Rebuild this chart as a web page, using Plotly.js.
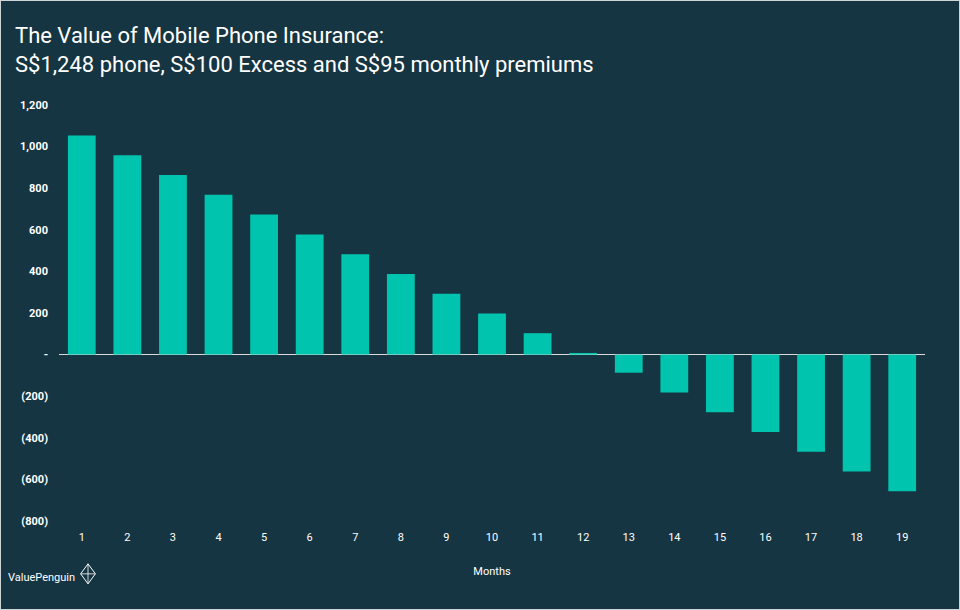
<!DOCTYPE html>
<html>
<head>
<meta charset="utf-8">
<script src="https://cdn.plot.ly/plotly-3.0.1.min.js"></script>
<style>
html,body{margin:0;padding:0;background:#163542;}
#wrap{position:relative;width:960px;height:610px;}
#chart{width:960px;height:610px;}
#frame{position:absolute;left:0;top:0;width:958px;height:608px;border:1px solid #cfd4d6;pointer-events:none;}
</style>
</head>
<body>
<div id="wrap"><div id="chart"></div><div id="frame"></div></div>
<script>
const months = ["1","2","3","4","5","6","7","8","9","10","11","12","13","14","15","16","17","18","19"];
const values = [1053, 958, 863, 768, 673, 578, 483, 388, 293, 198, 103, 8, -87, -182, -277, -372, -467, -562, -657];
const yTickVals = [-800, -600, -400, -200, 0, 200, 400, 600, 800, 1000, 1200];
const yTickText = ["(800)", "(600)", "(400)", "(200)", "-", "200", "400", "600", "800", "1,000", "1,200"];

const bg = "#163542";
const trace = {
  type: "bar",
  x: months,
  y: values,
  marker: {color: "#00c4ae"},
  width: 0.61,
  hoverinfo: "x+y"
};

const layout = {
  width: 960,
  height: 610,
  paper_bgcolor: bg,
  plot_bgcolor: bg,
  margin: {l: 59, r: 35, t: 105, b: 89},
  showlegend: false,
  font: {family: "Roboto, 'DejaVu Sans', sans-serif", color: "#ffffff"},
  title: {
    text: "The Value of Mobile Phone Insurance:<br>S$1,248 phone, S$100 Excess and S$95 monthly premiums",
    font: {size: 22, color: "#ffffff", family: "Roboto, sans-serif"},
    x: 15 / 960, xanchor: "left", xref: "container",
    y: 1 - 43 / 610, yanchor: "top", yref: "container"
  },
  xaxis: {
    type: "category",
    showgrid: false,
    zeroline: false,
    showline: false,
    ticks: "",
    ticklabelstandoff: 8,
    tickfont: {size: 11, color: "#ffffff"},
    title: {text: "Months", font: {size: 11, color: "#ffffff"}, standoff: 24}
  },
  yaxis: {
    range: [-800, 1200],
    tickvals: yTickVals,
    ticktext: yTickText,
    showgrid: false,
    zeroline: true,
    zerolinecolor: "#d9d9d9",
    zerolinewidth: 1.5,
    showline: false,
    ticks: "",
    ticklabelstandoff: 10,
    tickfont: {size: 11, color: "#ffffff", weight: "bold"}
  },
  annotations: [
    {
      text: "ValuePenguin",
      xref: "paper", yref: "paper",
      x: -0.061, y: -0.135,
      xanchor: "left", yanchor: "middle",
      showarrow: false,
      font: {size: 11, color: "#ffffff"}
    }
  ],
  shapes: [
    {type: "path", xref: "paper", yref: "paper",
     path: "M 0.0335 -0.103 L 0.042 -0.127 L 0.0335 -0.151 L 0.025 -0.127 Z",
     line: {color: "#ffffff", width: 1}},
    {type: "path", xref: "paper", yref: "paper",
     path: "M 0.0335 -0.103 L 0.0335 -0.151 M 0.025 -0.127 L 0.042 -0.127",
     line: {color: "#ffffff", width: 0.8}}
  ]
};

Plotly.newPlot("chart", [trace], layout, {displayModeBar: false, staticPlot: true});
</script>
</body>
</html>
